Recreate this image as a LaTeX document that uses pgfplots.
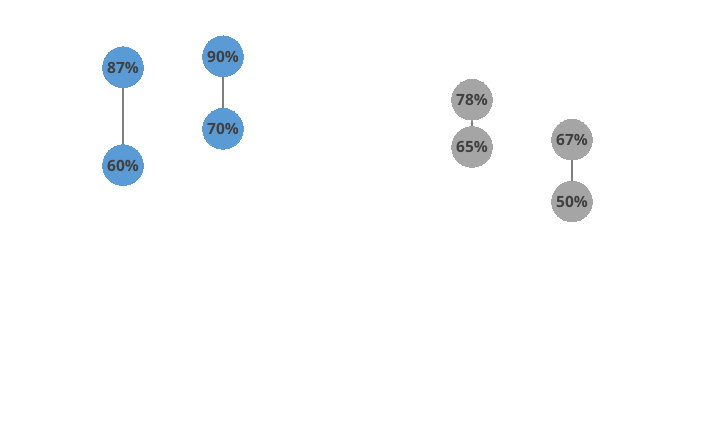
\documentclass[border=0pt]{standalone}
\usepackage{pgfplots}
\pgfplotsset{compat=1.18}
\usepackage{fontspec}
\setmainfont{Open Sans}
\definecolor{blueD}{HTML}{5B9BD5}
\definecolor{grayD}{HTML}{A5A5A5}
\definecolor{lineD}{HTML}{7F7F7F}
\definecolor{txtD}{HTML}{404040}
\begin{document}
\begin{tikzpicture}
\begin{axis}[
    scale only axis,
    width=710pt, height=422pt,
    xmin=0, xmax=710,
    ymin=-10.8, ymax=105.5,
    hide axis,
    clip=false,
    point meta=explicit symbolic,
    nodes near coords,
    nodes near coords align=center,
    every node near coord/.append style={anchor=center, yshift=-0.5pt, font=\fontsize{15.5}{17}\selectfont\bfseries, text=txtD},
  ]
  \path (rel axis cs:0,0) rectangle (rel axis cs:1,1);
  % connecting lines
  \addplot[lineD, line width=1.6pt, no marks, nodes near coords={}] coordinates {(123,87) (123,60)};
  \addplot[lineD, line width=1.6pt, no marks, nodes near coords={}] coordinates {(223,90) (223,70)};
  \addplot[lineD, line width=1.6pt, no marks, nodes near coords={}] coordinates {(472,78) (472,65)};
  \addplot[lineD, line width=1.6pt, no marks, nodes near coords={}] coordinates {(572,67) (572,50)};
  % dots
  \addplot[only marks, color=blueD, mark=*, mark size=20.3pt, mark options={draw=blueD, fill=blueD, line width=0pt}]
    table[meta=lab] {
      x y lab
      123 87 87\%
      123 60 60\%
      223 90 90\%
      223 70 70\%
    };
  \addplot[only marks, color=grayD, mark=*, mark size=20.3pt, mark options={draw=grayD, fill=grayD, line width=0pt}]
    table[meta=lab] {
      x y lab
      472 78 78\%
      472 65 65\%
      572 67 67\%
      572 50 50\%
    };
\end{axis}
\end{tikzpicture}
\end{document}
